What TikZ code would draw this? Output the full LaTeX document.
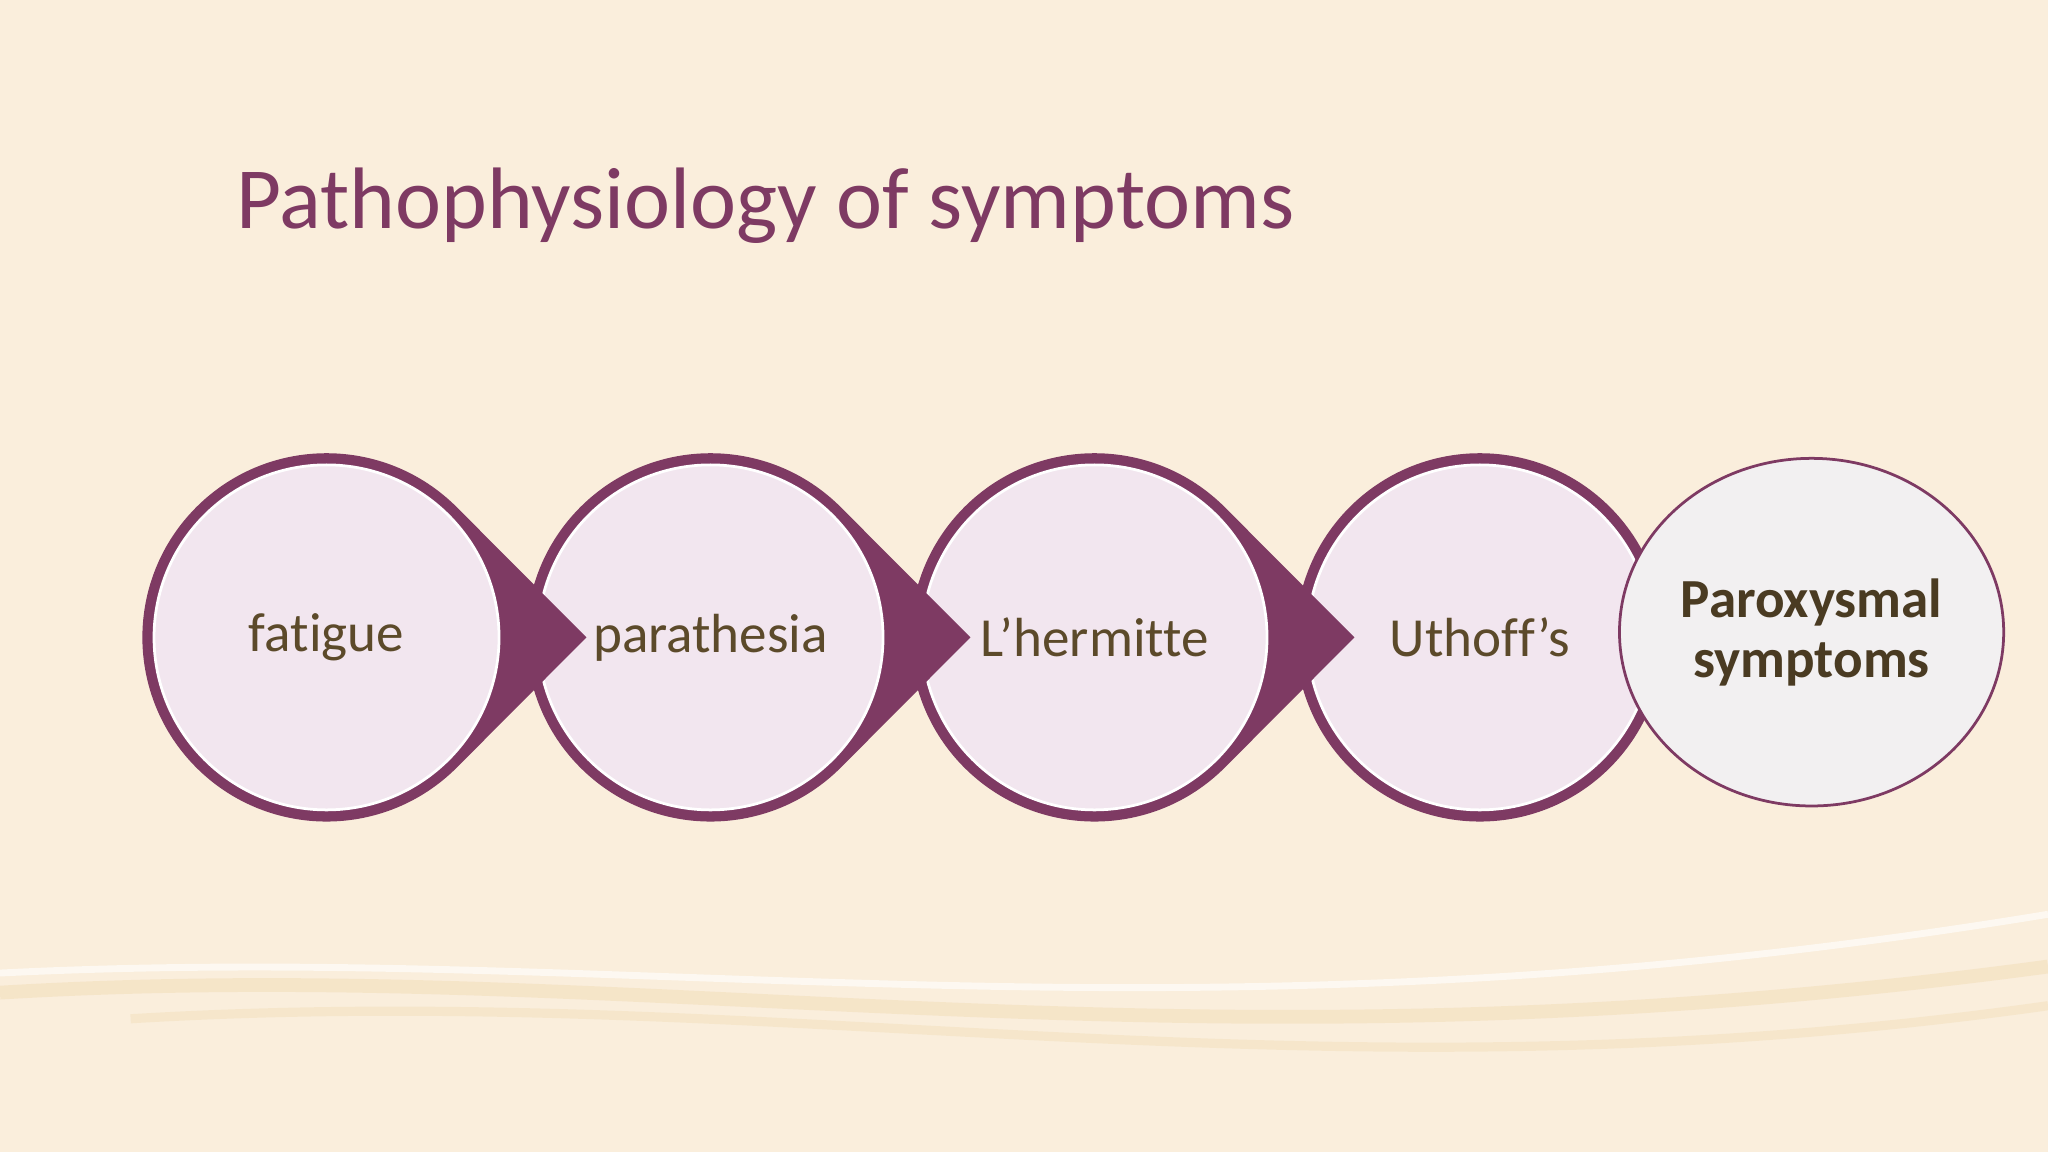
\documentclass[tikz,border=0pt]{standalone}
\usepackage{fontspec}
\setmainfont{Carlito}[Ligatures={NoCommon}]
\definecolor{bgcream}{HTML}{FAEEDC}
\definecolor{plum}{HTML}{7E3A63}
\definecolor{pinkfill}{HTML}{F2E6EF}
\definecolor{greyfill}{HTML}{F2F0F1}
\definecolor{labelbrown}{HTML}{5C4A2A}
\definecolor{wave}{HTML}{F3DFBC}
\tikzset{
  pointer/.style={fill=plum},
  disc/.style={circle, minimum size=2.64cm, inner sep=0pt, fill=pinkfill, draw=white, line width=0.6pt, text=labelbrown, font=\fontsize{12}{14}\selectfont},
  endoval/.style={ellipse, minimum width=2.94cm, minimum height=2.66cm, inner sep=0pt, fill=greyfill, draw=plum, line width=0.6pt, text=labelbrown!80!black, align=center, font=\bfseries\fontsize{12}{13}\selectfont}
}
\usetikzlibrary{shapes.geometric}
\begin{document}
\begin{tikzpicture}[x=0.01cm, y=-0.01cm]
\fill[bgcream] (0,0) rectangle (1568,882);
\useasboundingbox (0,0) rectangle (1568,882);
% background waves
\draw[wave, line width=3pt, opacity=0.6] (0,760) .. controls (500,730) and (900,830) .. (1568,740);
\draw[wave, line width=2pt, opacity=0.5] (100,780) .. controls (600,750) and (1000,850) .. (1568,770);
\draw[white, line width=1.5pt, opacity=0.6] (0,745) .. controls (500,720) and (900,810) .. (1568,700);
% title
\node[anchor=base west, text=plum, font=\fontsize{19}{22}\selectfont, inner sep=0pt] (title) at (180,175) {Pathophysiology of symptoms};
% circles, right to left
\fill[plum] (1133,488) circle (141);
\node[disc] (uthoff) at (1133,488) {Uthoff’s};
\node[endoval] (parox) at (1387,484) {Paroxysmal\\symptoms};
\foreach \cx/\nm/\lbl in {838/lherm/L’hermitte, 544/para/parathesia, 250/fat/fatigue}{
  \fill[pointer] (\cx,488) ++(45:141) arc (45:315:141) -- (\cx+199,488) -- cycle;
  \node[disc] (\nm) at (\cx,488) {\lbl};
}
\end{tikzpicture}
\end{document}
